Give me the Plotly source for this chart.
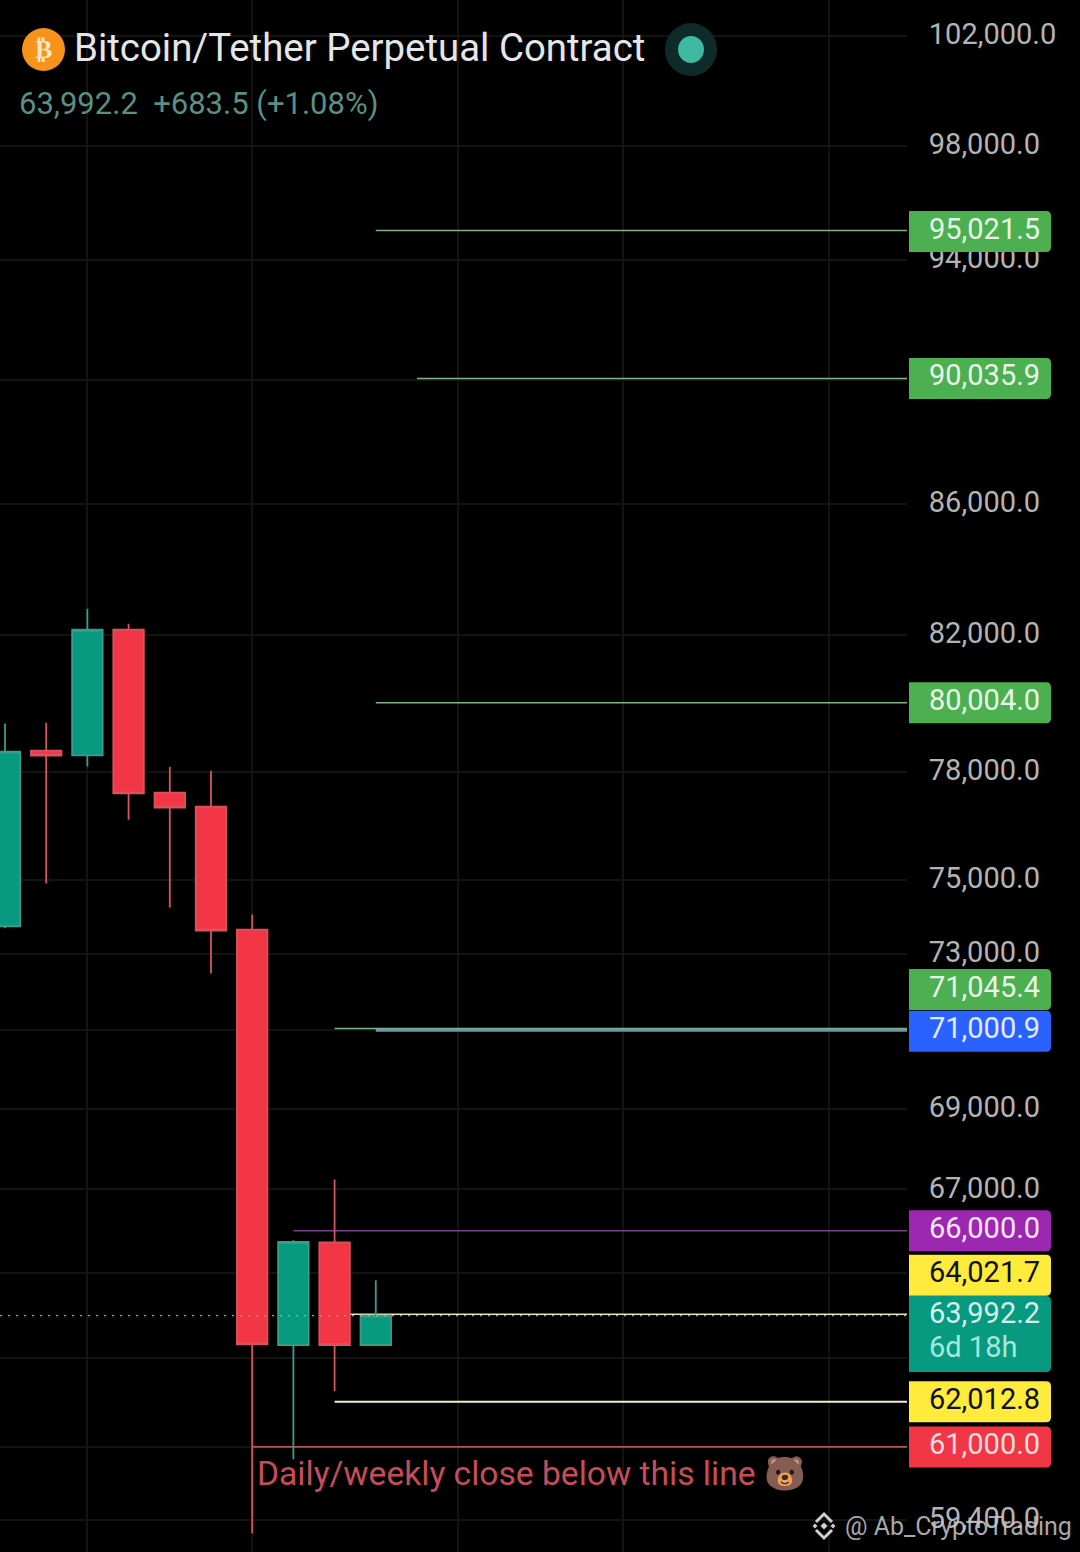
import math
import plotly.graph_objects as go

# weekly candles
candle_x = [0, 1, 2, 3, 4, 5, 6, 7, 8, 9]
opens = [73744, 78615, 78480, 82157, 77423, 77029, 73655, 63308, 65723, 63308.7]
highs = [79400, 79420, 82787, 82336, 78158, 78044, 74058, 65771, 67246, 64819]
lows = [73690, 74900, 78167, 76665, 74249, 72483, 59111, 60729, 62255, 63300]
closes = [78587, 78472, 82157, 77402, 77000, 73628, 63323, 65730, 63309, 63992.2]

tick_vals = [102000, 98000, 94000, 90000, 86000, 82000, 78000, 75000, 73000, 71000, 69000, 67000, 65000, 63000, 61000, 59400]
grid_x = [2, 6, 11, 15, 20]

level_prices = [95021.5, 90035.9, 80004.0, 71045.4, 71000.9, 66000.0, 64021.7, 62012.8, 61000.0]
level_start = [9, 10, 9, 8, 9, 7, 8, 8, 6]
level_line_colors = ["#7fb381", "#7fb381", "#7fb381", "#7fb381", "#6d93b5", "#7d3f8c", "#e8e6b0", "#f4f0c4", "#b9525c"]
level_widths = [1.5, 1.5, 1.5, 1.5, 3, 1.5, 1.5, 2, 1.8]
level_box_colors = ["#4caf50", "#4caf50", "#4caf50", "#4caf50", "#2962ff", "#9c27b0", "#ffeb3b", "#ffeb3b", "#f23645"]
level_text_colors = ["#e8f5e9", "#e8f5e9", "#e8f5e9", "#e8f5e9", "#e3ecff", "#f6e6fa", "#111111", "#111111", "#f5dfe1"]
level_shift = [-1, 0, 0, 39, -1, 0, 39, 0, 0]

last_price = 63992.2
RED = "#f23645"
GREEN = "#089981"
X_RANGE = [-0.121, 21.893]
Y_RANGE = [4.76871, 5.01430]
PLOT_W = 907
H = 1552


def px(x):
    return x / PLOT_W


def py(y):
    return 1 - y / H


def price_y(p):
    return H * (Y_RANGE[1] - math.log10(p)) / (Y_RANGE[1] - Y_RANGE[0])


def label_box(top, bottom, color):
    # right corners rounded, left ones square
    l, r, c = 909, 1051, 5
    path = (f"M {px(l)} {py(top)} L {px(r - c)} {py(top)} Q {px(r)} {py(top)} {px(r)} {py(top + c)} "
            f"L {px(r)} {py(bottom - c)} Q {px(r)} {py(bottom)} {px(r - c)} {py(bottom)} L {px(l)} {py(bottom)} Z")
    return dict(type="path", xref="paper", yref="paper", path=path, fillcolor=color, line_width=0)


def label_text(y, text, color):
    return dict(xref="paper", yref="paper", x=px(927), y=py(y), xanchor="left", yanchor="middle", showarrow=False,
                text=text, font=dict(family="Roboto", size=29, color=color))


fig = go.Figure()

for p, s, c, w in zip(level_prices, level_start, level_line_colors, level_widths):
    fig.add_trace(go.Scatter(x=[s, X_RANGE[1]], y=[p, p], mode="lines", line=dict(color=c, width=w), showlegend=False))

# candles sit on an overlay axis so they stay above the level lines
fig.add_trace(go.Candlestick(
    x=candle_x, open=opens, high=highs, low=lows, close=closes, yaxis="y2",
    increasing=dict(fillcolor=GREEN, line=dict(color="#3b9c88", width=1.8)),
    decreasing=dict(fillcolor=RED, line=dict(color="#d9535f", width=1.8)),
    whiskerwidth=0, showlegend=False,
))

fig.add_trace(go.Scatter(x=X_RANGE, y=[last_price, last_price], yaxis="y2", mode="lines",
                         line=dict(color="#a0a8a0", width=1.3, dash="2px,6px"), showlegend=False))

shapes = []
anns = []
for p, box, txt, sh in zip(level_prices, level_box_colors, level_text_colors, level_shift):
    mid = price_y(p) - sh
    shapes.append(label_box(mid - 20.5, mid + 20.5, box))
    anns.append(label_text(mid - 3, f"{p:,.1f}", txt))

# current price box and timer
shapes.append(label_box(1296, 1372, GREEN))
anns.append(label_text(1313, f"{last_price:,.1f}", "#d3f2ea"))
anns.append(label_text(1347, "6d 18h", "#a5e8d8"))

anns.append(dict(xref="paper", yref="paper", x=px(72), y=py(47), xanchor="left", yanchor="middle", showarrow=False,
                 text="Bitcoin/Tether Perpetual Contract", font=dict(family="Roboto", size=38.4, color="#e6e6e6")))
anns.append(dict(xref="paper", yref="paper", x=px(17), y=py(104), xanchor="left", yanchor="middle", showarrow=False,
                 text="63,992.2&nbsp;&nbsp;+683.5 (+1.08%)", font=dict(family="Roboto", size=31, color="#5c8f80")))
anns.append(dict(xref="paper", yref="paper", x=px(43), y=py(49), xanchor="center", yanchor="middle", showarrow=False,
                 text="<b>₿</b>", font=dict(family="DejaVu Sans", size=26, color="#fbe6c8")))
anns.append(dict(xref="paper", yref="paper", x=px(255), y=py(1473), xanchor="left", yanchor="middle", showarrow=False,
                 text="Daily/weekly close below this line 🐻", font=dict(family="Roboto", size=33.6, color="#c64d58")))
anns.append(dict(xref="paper", yref="paper", x=px(843), y=py(1526), xanchor="left", yanchor="middle", showarrow=False,
                 text="@ Ab_CryptoTrading", font=dict(family="Roboto", size=25, color="rgba(200,200,200,0.85)")))

shapes += [
    dict(type="circle", xref="paper", yref="paper", x0=px(22), x1=px(65), y0=py(71), y1=py(28), fillcolor="#f7931a", line_width=0),
    dict(type="circle", xref="paper", yref="paper", x0=px(665), x1=px(717), y0=py(76), y1=py(23), fillcolor="#0e2b29", line_width=0),
    dict(type="circle", xref="paper", yref="paper", x0=px(678), x1=px(704), y0=py(63), y1=py(36), fillcolor="#3fb8a2", line_width=0),
]


def diamond(cx, cy, r):
    return f"M {px(cx - r)} {py(cy)} L {px(cx)} {py(cy - r)} L {px(cx + r)} {py(cy)} L {px(cx)} {py(cy + r)} Z"


def chevron(cx, cy, r, d):
    return f"M {px(cx - r)} {py(cy)} L {px(cx)} {py(cy + d * r)} L {px(cx + r)} {py(cy)}"


# binance mark
for cx, cy, r in [(824, 1526, 3.5), (815, 1526, 2.5), (833, 1526, 2.5)]:
    shapes.append(dict(type="path", xref="paper", yref="paper", path=diamond(cx, cy, r), fillcolor="#d0d0d0", line_width=0))
for cy, d in [(1522, -1), (1530, 1)]:
    shapes.append(dict(type="path", xref="paper", yref="paper", path=chevron(824, cy, 8, d), line=dict(color="#d0d0d0", width=3)))

fig.update_layout(
    width=1080, height=H, autosize=False,
    margin=dict(l=0, r=1080 - PLOT_W, t=0, b=0),
    paper_bgcolor="#000000", plot_bgcolor="#000000",
    boxgap=0.26, boxgroupgap=0,
    annotations=anns, shapes=shapes,
    xaxis=dict(range=X_RANGE, rangeslider=dict(visible=False), tickvals=grid_x, showticklabels=False, ticks="",
               showgrid=True, gridcolor="#131313", gridwidth=1.5, zeroline=False, showline=False),
    yaxis=dict(type="log", range=Y_RANGE, side="right", tickvals=tick_vals, ticktext=[f"{v:,.1f}" for v in tick_vals],
               ticks="outside", ticklen=15, tickcolor="rgba(0,0,0,0)", tickfont=dict(family="Roboto", size=29, color="#b4b4b4"),
               showgrid=True, gridcolor="#131313", gridwidth=1.5, zeroline=False, showline=False, ticklabelshift=-2),
    yaxis2=dict(type="log", range=Y_RANGE, overlaying="y", side="right", visible=False, showgrid=False),
)

fig.write_html("out.html", config=dict(displayModeBar=False), post_script="document.body.style.margin='0';document.body.style.overflow='hidden';")
